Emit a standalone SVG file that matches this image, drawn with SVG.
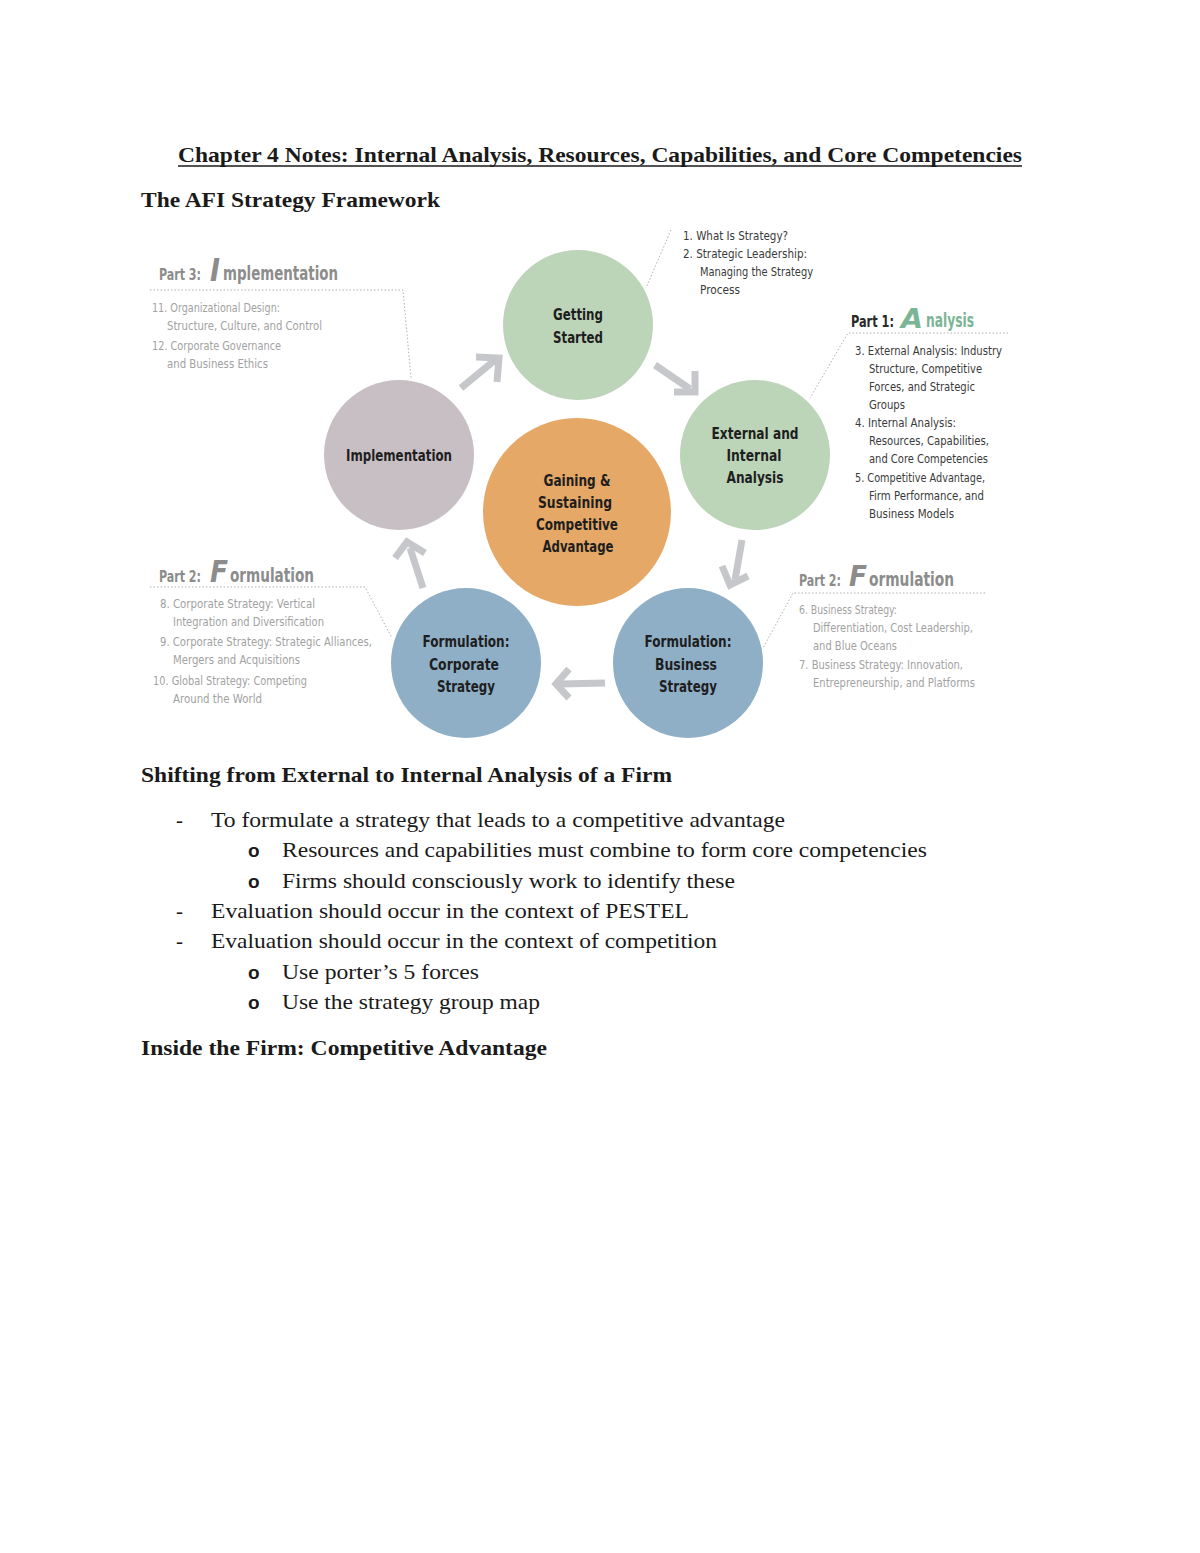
<svg xmlns="http://www.w3.org/2000/svg" width="1200" height="1553" viewBox="0 0 1200 1553">
<style>
.doc{font-family:"Liberation Serif","Times New Roman",serif;fill:#1a1a1a;font-size:21px}
.docb{font-family:"Liberation Serif","Times New Roman",serif;fill:#1a1a1a;font-size:21px;font-weight:bold}
.bul{font-family:"Liberation Sans",Arial,sans-serif;font-weight:bold;font-size:19px;fill:#1a1a1a}
.lbl{font-family:"DejaVu Sans Condensed","DejaVu Sans",sans-serif;font-weight:bold;font-size:15.5px;fill:#1e1e1e;text-anchor:middle}
.it{font-family:"DejaVu Sans Condensed","DejaVu Sans",sans-serif;font-size:12px}
.g1{fill:#a2a2a2}
.dk{fill:#3a3a3a}
.ph{font-family:"DejaVu Sans Condensed","DejaVu Sans",sans-serif;font-weight:bold}
.dot{fill:none;stroke:#b0b0b0;stroke-width:1;stroke-dasharray:1.5 2}
.arr{fill:none;stroke:#c6c7ca;stroke-width:7;stroke-linecap:butt;stroke-linejoin:miter}
</style>
<rect width="1200" height="1553" fill="#ffffff"/>

<g id="doc-text">
<text class="docb" x="178" y="162" textLength="844" lengthAdjust="spacingAndGlyphs">Chapter 4 Notes: Internal Analysis, Resources, Capabilities, and Core Competencies</text>
<line x1="178" y1="166" x2="1022" y2="166" stroke="#1a1a1a" stroke-width="1.5"/>
<text class="docb" x="141" y="207" textLength="299" lengthAdjust="spacingAndGlyphs">The AFI Strategy Framework</text>
<text class="docb" x="141" y="782" textLength="531" lengthAdjust="spacingAndGlyphs">Shifting from External to Internal Analysis of a Firm</text>
<text class="doc" x="176" y="827">-</text>
<text class="doc" x="211" y="827" textLength="574" lengthAdjust="spacingAndGlyphs">To formulate a strategy that leads to a competitive advantage</text>
<text class="bul" x="248" y="857">o</text>
<text class="doc" x="282" y="857" textLength="645" lengthAdjust="spacingAndGlyphs">Resources and capabilities must combine to form core competencies</text>
<text class="bul" x="248" y="888">o</text>
<text class="doc" x="282" y="888" textLength="453" lengthAdjust="spacingAndGlyphs">Firms should consciously work to identify these</text>
<text class="doc" x="176" y="918">-</text>
<text class="doc" x="211" y="918" textLength="478" lengthAdjust="spacingAndGlyphs">Evaluation should occur in the context of PESTEL</text>
<text class="doc" x="176" y="948">-</text>
<text class="doc" x="211" y="948" textLength="506" lengthAdjust="spacingAndGlyphs">Evaluation should occur in the context of competition</text>
<text class="bul" x="248" y="979">o</text>
<text class="doc" x="282" y="979" textLength="197" lengthAdjust="spacingAndGlyphs">Use porter’s 5 forces</text>
<text class="bul" x="248" y="1009">o</text>
<text class="doc" x="282" y="1009" textLength="258" lengthAdjust="spacingAndGlyphs">Use the strategy group map</text>
<text class="docb" x="141" y="1055" textLength="406" lengthAdjust="spacingAndGlyphs">Inside the Firm:  Competitive Advantage</text>
</g>

<g id="connectors">
<path class="arr" d="M461,388 L495,360"/>
<path class="arr" d="M476,357 L499,358 L497,382"/>
<path class="arr" d="M655,365 L690,389"/>
<path class="arr" d="M695,371 L695,392 L674,392"/>
<path class="arr" d="M742,540 L735,580"/>
<path class="arr" d="M722,566 L730,585 L748,576"/>
<path class="arr" d="M605,683 L560,684"/>
<path class="arr" d="M569,669 L556,684 L569,698"/>
<path class="arr" d="M423,588 L410,548"/>
<path class="arr" d="M395,558 L407,542 L425,553"/>
<path class="dot" d="M150,290 L403,290 L411,378"/>
<path class="dot" d="M671,230 L646,288"/>
<path class="dot" d="M1008,333 L848,333 L810,398"/>
<path class="dot" d="M150,587 L365,587 L392,638"/>
<path class="dot" d="M985,593 L793,593 L763,648"/>
</g>

<g id="node-getting-started">
<circle cx="578" cy="325" r="75" fill="#bcd4b8"/>
<text class="lbl" x="578" y="320" textLength="50" lengthAdjust="spacingAndGlyphs">Getting</text>
<text class="lbl" x="578" y="343" textLength="50" lengthAdjust="spacingAndGlyphs">Started</text>
</g>

<g id="node-external-internal">
<circle cx="755" cy="455" r="75" fill="#bcd4b8"/>
<text class="lbl" x="755" y="439" textLength="87" lengthAdjust="spacingAndGlyphs">External and</text>
<text class="lbl" x="754" y="461" textLength="55" lengthAdjust="spacingAndGlyphs">Internal</text>
<text class="lbl" x="755" y="483" textLength="57" lengthAdjust="spacingAndGlyphs">Analysis</text>
</g>

<g id="node-business">
<circle cx="688" cy="663" r="75" fill="#8fafc7"/>
<text class="lbl" x="688" y="647" textLength="87" lengthAdjust="spacingAndGlyphs">Formulation:</text>
<text class="lbl" x="686" y="670" textLength="62" lengthAdjust="spacingAndGlyphs">Business</text>
<text class="lbl" x="688" y="692" textLength="58" lengthAdjust="spacingAndGlyphs">Strategy</text>
</g>

<g id="node-corporate">
<circle cx="466" cy="663" r="75" fill="#8fafc7"/>
<text class="lbl" x="466" y="647" textLength="87" lengthAdjust="spacingAndGlyphs">Formulation:</text>
<text class="lbl" x="464" y="670" textLength="70" lengthAdjust="spacingAndGlyphs">Corporate</text>
<text class="lbl" x="466" y="692" textLength="58" lengthAdjust="spacingAndGlyphs">Strategy</text>
</g>

<g id="node-implementation">
<circle cx="399" cy="455" r="75" fill="#c8bfc5"/>
<text class="lbl" x="399" y="461" textLength="106" lengthAdjust="spacingAndGlyphs">Implementation</text>
</g>

<g id="node-center">
<circle cx="577" cy="512" r="94" fill="#e5a866"/>
<text class="lbl" x="577" y="486" textLength="67" lengthAdjust="spacingAndGlyphs">Gaining &amp;</text>
<text class="lbl" x="575" y="508" textLength="74" lengthAdjust="spacingAndGlyphs">Sustaining</text>
<text class="lbl" x="577" y="530" textLength="82" lengthAdjust="spacingAndGlyphs">Competitive</text>
<text class="lbl" x="578" y="552" textLength="71" lengthAdjust="spacingAndGlyphs">Advantage</text>
</g>

<g id="note-implementation">
<text class="ph" x="159" y="280" font-size="15" fill="#8c8c8c" textLength="42" lengthAdjust="spacingAndGlyphs">Part 3:</text>
<text class="ph" x="210" y="281" font-size="32" font-style="italic" fill="#8c8c8c" textLength="10" lengthAdjust="spacingAndGlyphs">I</text>
<text class="ph" x="223" y="280" font-size="20" fill="#8c8c8c" textLength="115" lengthAdjust="spacingAndGlyphs">mplementation</text>
<text class="it g1" x="152" y="312" textLength="128" lengthAdjust="spacingAndGlyphs">11. Organizational Design:</text>
<text class="it g1" x="167" y="330" textLength="155" lengthAdjust="spacingAndGlyphs">Structure, Culture, and Control</text>
<text class="it g1" x="152" y="350" textLength="129" lengthAdjust="spacingAndGlyphs">12. Corporate Governance</text>
<text class="it g1" x="167" y="368" textLength="101" lengthAdjust="spacingAndGlyphs">and Business Ethics</text>
</g>

<g id="note-getting-started">
<text class="it dk" x="683" y="240" textLength="105" lengthAdjust="spacingAndGlyphs">1.  What Is Strategy?</text>
<text class="it dk" x="683" y="258" textLength="124" lengthAdjust="spacingAndGlyphs">2.  Strategic Leadership:</text>
<text class="it dk" x="700" y="276" textLength="113" lengthAdjust="spacingAndGlyphs">Managing the Strategy</text>
<text class="it dk" x="700" y="294" textLength="40" lengthAdjust="spacingAndGlyphs">Process</text>
</g>

<g id="note-analysis">
<text class="ph" x="851" y="327" font-size="15" fill="#2a2a2a" textLength="43" lengthAdjust="spacingAndGlyphs">Part 1:</text>
<text class="ph" x="901" y="328" font-size="26" font-style="italic" fill="#7ab595" textLength="22" lengthAdjust="spacingAndGlyphs">A</text>
<text class="ph" x="926" y="327" font-size="20" fill="#7ab595" textLength="48" lengthAdjust="spacingAndGlyphs">nalysis</text>
<text class="it dk" x="855" y="355" textLength="147" lengthAdjust="spacingAndGlyphs">3. External Analysis: Industry</text>
<text class="it dk" x="869" y="373" textLength="113" lengthAdjust="spacingAndGlyphs">Structure, Competitive</text>
<text class="it dk" x="869" y="391" textLength="106" lengthAdjust="spacingAndGlyphs">Forces, and Strategic</text>
<text class="it dk" x="869" y="409" textLength="36" lengthAdjust="spacingAndGlyphs">Groups</text>
<text class="it dk" x="855" y="427" textLength="101" lengthAdjust="spacingAndGlyphs">4. Internal Analysis:</text>
<text class="it dk" x="869" y="445" textLength="120" lengthAdjust="spacingAndGlyphs">Resources, Capabilities,</text>
<text class="it dk" x="869" y="463" textLength="119" lengthAdjust="spacingAndGlyphs">and Core Competencies</text>
<text class="it dk" x="855" y="482" textLength="130" lengthAdjust="spacingAndGlyphs">5. Competitive Advantage,</text>
<text class="it dk" x="869" y="500" textLength="115" lengthAdjust="spacingAndGlyphs">Firm Performance, and</text>
<text class="it dk" x="869" y="518" textLength="85" lengthAdjust="spacingAndGlyphs">Business Models</text>
</g>

<g id="note-formulation-corporate">
<text class="ph" x="159" y="582" font-size="15" fill="#8c8c8c" textLength="42" lengthAdjust="spacingAndGlyphs">Part 2:</text>
<text class="ph" x="210" y="582" font-size="30" font-style="italic" fill="#8c8c8c" textLength="18" lengthAdjust="spacingAndGlyphs">F</text>
<text class="ph" x="230" y="582" font-size="20" fill="#8c8c8c" textLength="84" lengthAdjust="spacingAndGlyphs">ormulation</text>
<text class="it g1" x="160" y="608" textLength="155" lengthAdjust="spacingAndGlyphs">8. Corporate Strategy: Vertical</text>
<text class="it g1" x="173" y="626" textLength="151" lengthAdjust="spacingAndGlyphs">Integration and Diversification</text>
<text class="it g1" x="160" y="646" textLength="212" lengthAdjust="spacingAndGlyphs">9. Corporate Strategy: Strategic Alliances,</text>
<text class="it g1" x="173" y="664" textLength="127" lengthAdjust="spacingAndGlyphs">Mergers and Acquisitions</text>
<text class="it g1" x="153" y="685" textLength="154" lengthAdjust="spacingAndGlyphs">10. Global Strategy: Competing</text>
<text class="it g1" x="173" y="703" textLength="89" lengthAdjust="spacingAndGlyphs">Around the World</text>
</g>

<g id="note-formulation-business">
<text class="ph" x="799" y="586" font-size="15" fill="#8c8c8c" textLength="42" lengthAdjust="spacingAndGlyphs">Part 2:</text>
<text class="ph" x="849" y="586" font-size="28" font-style="italic" fill="#8c8c8c" textLength="18" lengthAdjust="spacingAndGlyphs">F</text>
<text class="ph" x="869" y="586" font-size="20" fill="#8c8c8c" textLength="85" lengthAdjust="spacingAndGlyphs">ormulation</text>
<text class="it g1" x="799" y="614" textLength="98" lengthAdjust="spacingAndGlyphs">6. Business Strategy:</text>
<text class="it g1" x="813" y="632" textLength="160" lengthAdjust="spacingAndGlyphs">Differentiation, Cost Leadership,</text>
<text class="it g1" x="813" y="650" textLength="84" lengthAdjust="spacingAndGlyphs">and Blue Oceans</text>
<text class="it g1" x="799" y="669" textLength="164" lengthAdjust="spacingAndGlyphs">7. Business Strategy: Innovation,</text>
<text class="it g1" x="813" y="687" textLength="162" lengthAdjust="spacingAndGlyphs">Entrepreneurship, and Platforms</text>
</g>
</svg>
